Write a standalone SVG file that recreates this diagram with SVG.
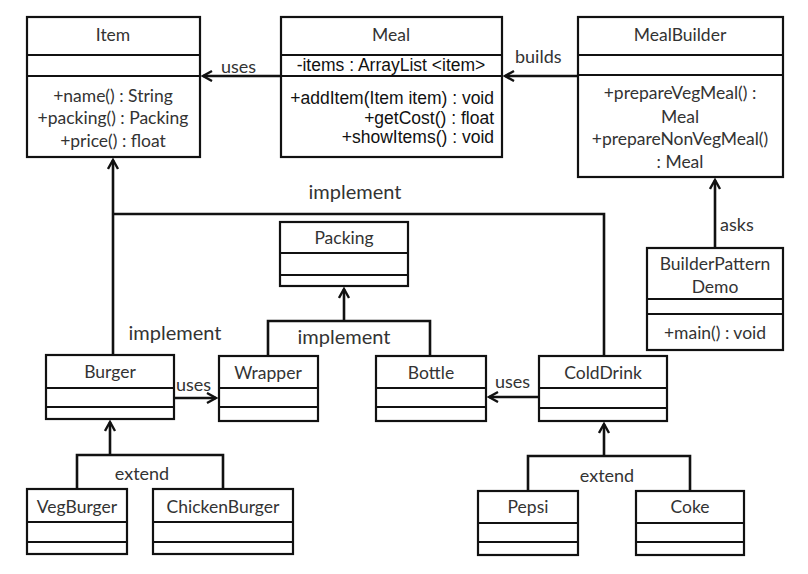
<svg xmlns="http://www.w3.org/2000/svg" width="808" height="574" viewBox="0 0 808 574">
<style>
.box{fill:#fff;stroke:#111;stroke-width:2.2}
.div{stroke:#111;stroke-width:2.2}
.t{font-family:Lato,"Open Sans",sans-serif;font-size:17.5px;fill:#333;text-anchor:middle}
.a{font-family:"Liberation Sans",Arial,sans-serif;font-size:17.5px;fill:#111}
.lbl{font-family:Lato,"Open Sans",sans-serif;font-size:18px;fill:#333}
.big{font-family:Lato,"Open Sans",sans-serif;font-size:20px;fill:#333;text-anchor:middle}
.c{fill:none;stroke:#111;stroke-width:2.6}
</style>
<defs>
<marker id="ah" markerUnits="userSpaceOnUse" markerWidth="14" markerHeight="14" refX="11" refY="6" orient="auto">
<path d="M2,1 L11,6 L2,11" fill="none" stroke="#111" stroke-width="2.4"/>
</marker>
</defs>
<rect width="808" height="574" fill="#fff"/>
<g id="connectors">
<path class="c" d="M281,76 H203" marker-end="url(#ah)"/>
<path class="c" d="M578,76 H505" marker-end="url(#ah)"/>
<path class="c" d="M715,248 V180" marker-end="url(#ah)"/>
<path class="c" d="M113,355 V160" marker-end="url(#ah)"/>
<path class="c" d="M113,214 H604 V356"/>
<path class="c" d="M174,398 H216" marker-end="url(#ah)"/>
<path class="c" d="M539,397 H489" marker-end="url(#ah)"/>
<path class="c" d="M268,356 V321 H430 V356"/>
<path class="c" d="M344,321 V289" marker-end="url(#ah)"/>
<path class="c" d="M77,489 V455 H223 V489"/>
<path class="c" d="M110,455 V422" marker-end="url(#ah)"/>
<path class="c" d="M528,491 V456 H690 V491"/>
<path class="c" d="M604,456 V424" marker-end="url(#ah)"/>
<text class="lbl" x="221" y="73">uses</text>
<text class="lbl" x="515" y="63">builds</text>
<text class="lbl" x="720" y="231">asks</text>
<text class="big" x="355" y="199">implement</text>
<text class="big" x="175" y="340">implement</text>
<text class="big" x="344" y="344">implement</text>
<text class="lbl" x="176" y="391">uses</text>
<text class="lbl" x="495" y="388">uses</text>
<text class="lbl" x="142" y="480" text-anchor="middle">extend</text>
<text class="lbl" x="607" y="482" text-anchor="middle">extend</text>
</g>
<g id="Item">
<rect class="box" x="27" y="17" width="173" height="140"/>
<line class="div" x1="27" y1="55" x2="200" y2="55"/>
<line class="div" x1="27" y1="76" x2="200" y2="76"/>
<text class="t" x="113" y="41">Item</text>
<text class="t" x="113" y="102">+name() : String</text>
<text class="t" x="113" y="124">+packing() : Packing</text>
<text class="t" x="113" y="147">+price() : float</text>
</g>
<g id="Meal">
<rect class="box" x="281" y="17" width="221" height="140"/>
<line class="div" x1="281" y1="55" x2="502" y2="55"/>
<line class="div" x1="281" y1="76" x2="502" y2="76"/>
<text class="t" x="391" y="41">Meal</text>
<text class="a" x="391" y="71" text-anchor="middle" font-size="16.5">-items : ArrayList &lt;item&gt;</text>
<text class="a" x="494" y="104" text-anchor="end">+addItem(Item item) : void</text>
<text class="a" x="494" y="124" text-anchor="end">+getCost() : float</text>
<text class="a" x="494" y="143" text-anchor="end">+showItems() : void</text>
</g>
<g id="MealBuilder">
<rect class="box" x="578" y="17" width="205" height="160"/>
<line class="div" x1="578" y1="55" x2="783" y2="55"/>
<line class="div" x1="578" y1="75" x2="783" y2="75"/>
<text class="t" x="680" y="41">MealBuilder</text>
<text class="t" x="680" y="99">+prepareVegMeal() :</text>
<text class="t" x="680" y="123">Meal</text>
<text class="t" x="680" y="145">+prepareNonVegMeal()</text>
<text class="t" x="680" y="168">: Meal</text>
</g>
<g id="BuilderPatternDemo">
<rect class="box" x="647" y="248" width="136" height="102"/>
<line class="div" x1="647" y1="299" x2="783" y2="299"/>
<line class="div" x1="647" y1="314" x2="783" y2="314"/>
<text class="t" x="715" y="270">BuilderPattern</text>
<text class="t" x="715" y="293">Demo</text>
<text class="t" x="715" y="339">+main() : void</text>
</g>
<g id="Packing">
<rect class="box" x="280" y="222" width="128" height="64"/>
<line class="div" x1="280" y1="253" x2="408" y2="253"/>
<line class="div" x1="280" y1="275" x2="408" y2="275"/>
<text class="t" x="344" y="244">Packing</text>
</g>
<g id="Burger">
<rect class="box" x="46" y="355" width="128" height="64"/>
<line class="div" x1="46" y1="388" x2="174" y2="388"/>
<line class="div" x1="46" y1="407" x2="174" y2="407"/>
<text class="t" x="110" y="378">Burger</text>
</g>
<g id="Wrapper">
<rect class="box" x="219" y="356" width="99" height="65"/>
<line class="div" x1="219" y1="388" x2="318" y2="388"/>
<line class="div" x1="219" y1="407" x2="318" y2="407"/>
<text class="t" x="268" y="379">Wrapper</text>
</g>
<g id="Bottle">
<rect class="box" x="376" y="356" width="110" height="65"/>
<line class="div" x1="376" y1="388" x2="486" y2="388"/>
<line class="div" x1="376" y1="407" x2="486" y2="407"/>
<text class="t" x="431" y="379">Bottle</text>
</g>
<g id="ColdDrink">
<rect class="box" x="539" y="356" width="128" height="65"/>
<line class="div" x1="539" y1="388" x2="667" y2="388"/>
<line class="div" x1="539" y1="408" x2="667" y2="408"/>
<text class="t" x="603" y="379">ColdDrink</text>
</g>
<g id="VegBurger">
<rect class="box" x="27" y="489" width="100" height="65"/>
<line class="div" x1="27" y1="522" x2="127" y2="522"/>
<line class="div" x1="27" y1="542" x2="127" y2="542"/>
<text class="t" x="77" y="513">VegBurger</text>
</g>
<g id="ChickenBurger">
<rect class="box" x="153" y="489" width="140" height="65"/>
<line class="div" x1="153" y1="522" x2="293" y2="522"/>
<line class="div" x1="153" y1="542" x2="293" y2="542"/>
<text class="t" x="223" y="513">ChickenBurger</text>
</g>
<g id="Pepsi">
<rect class="box" x="478" y="491" width="100" height="64"/>
<line class="div" x1="478" y1="523" x2="578" y2="523"/>
<line class="div" x1="478" y1="542" x2="578" y2="542"/>
<text class="t" x="528" y="513">Pepsi</text>
</g>
<g id="Coke">
<rect class="box" x="636" y="491" width="108" height="64"/>
<line class="div" x1="636" y1="523" x2="744" y2="523"/>
<line class="div" x1="636" y1="542" x2="744" y2="542"/>
<text class="t" x="690" y="513">Coke</text>
</g>
</svg>
